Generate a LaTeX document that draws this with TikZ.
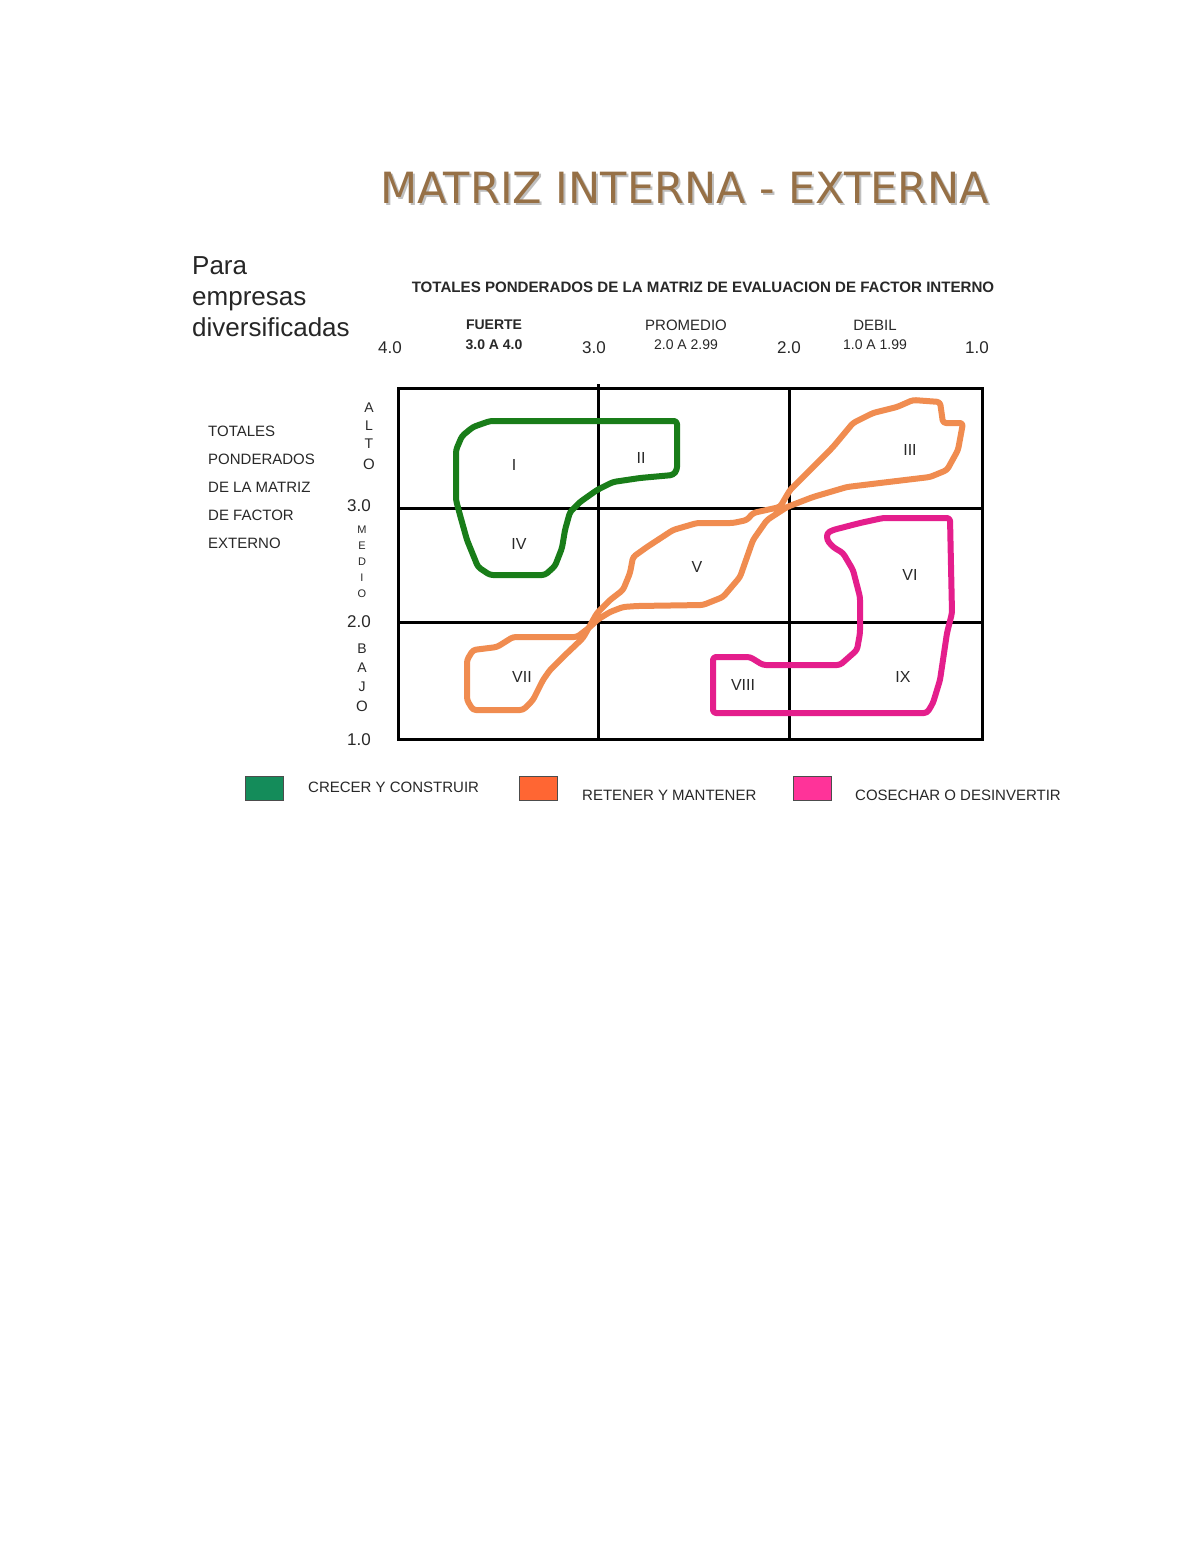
\documentclass[tikz,border=0pt]{standalone}
\usepackage{fontspec}
\setmainfont{Liberation Sans}
\newfontfamily\titlefont{DejaVu Sans}
\definecolor{titlebrown}{RGB}{150,112,70}
\definecolor{gridtext}{RGB}{40,40,40}
\definecolor{growgreen}{RGB}{25,125,25}
\definecolor{keeporange}{RGB}{240,140,80}
\definecolor{harvmag}{RGB}{228,30,140}
\definecolor{leggreen}{RGB}{20,140,90}
\definecolor{legorange}{RGB}{255,102,51}
\definecolor{legmag}{RGB}{255,51,153}
\newcommand{\fs}[1]{\fontsize{#1}{#1}\selectfont}
\begin{document}
\begin{tikzpicture}[x=1pt,y=-1pt,
  lbl/.style={text=gridtext,inner sep=0pt},
  roman/.style={lbl,font=\fs{16}},
  gridline/.style={line width=3pt,black},
  zone/.style={line width=6pt,line join=round,line cap=round,rounded corners=3pt},
  legbox/.style={draw=black!70,line width=1pt,minimum width=38pt,minimum height=24pt,inner sep=0pt},
  legtext/.style={lbl,anchor=west,font=\fs{15}}]
\useasboundingbox[fill=white] (0,0) rectangle (1200,1553);
% title
\node[lbl,text=black!25,font=\titlefont\fs{43}] (titleshadow) at (687,190) {MATRIZ INTERNA - EXTERNA};
\node[lbl,text=titlebrown,font=\titlefont\fs{43}] (title) at (685,188) {MATRIZ INTERNA - EXTERNA};
% left caption
\node[lbl,anchor=base west,text=black!85,font=\fs{26}] (para1) at (192,274) {Para};
\node[lbl,anchor=base west,text=black!85,font=\fs{26}] (para2) at (192,305) {empresas};
\node[lbl,anchor=base west,text=black!85,font=\fs{26}] (para3) at (192,336) {diversificadas};
% top header
\node[lbl,font=\bfseries\fs{15.1}] (toph) at (703,287) {TOTALES PONDERADOS DE LA MATRIZ DE EVALUACION DE FACTOR INTERNO};
\node[lbl,font=\bfseries\fs{14}] (fuerte) at (494,325) {FUERTE};
\node[lbl,font=\bfseries\fs{14}] (fuerter) at (494,345) {3.0 A 4.0};
\node[lbl,font=\fs{15}] (prom) at (686,325) {PROMEDIO};
\node[lbl,font=\fs{14}] (promr) at (686,345) {2.0 A 2.99};
\node[lbl,font=\fs{15}] (debil) at (875,325) {DEBIL};
\node[lbl,font=\fs{14}] (debilr) at (875,345) {1.0 A 1.99};
\node[lbl,font=\fs{17}] (x40) at (390,348) {4.0};
\node[lbl,font=\fs{17}] (x30) at (594,348) {3.0};
\node[lbl,font=\fs{17}] (x20) at (789,348) {2.0};
\node[lbl,font=\fs{17}] (x10) at (977,348) {1.0};
% left side labels
\node[lbl,anchor=west,font=\fs{15}] (ext1) at (208,431) {TOTALES};
\node[lbl,anchor=west,font=\fs{15}] (ext2) at (208,459) {PONDERADOS};
\node[lbl,anchor=west,font=\fs{15}] (ext3) at (208,487) {DE LA MATRIZ};
\node[lbl,anchor=west,font=\fs{15}] (ext4) at (208,515) {DE FACTOR};
\node[lbl,anchor=west,font=\fs{15}] (ext5) at (208,543) {EXTERNO};
% vertical words
\node[lbl,font=\fs{14}] (va1) at (369,408) {A};
\node[lbl,font=\fs{14}] (va2) at (369,426) {L};
\node[lbl,font=\fs{14}] (va3) at (369,444) {T};
\node[lbl,font=\fs{15}] (va4) at (369,464) {O};
\node[lbl,font=\fs{11}] (vm1) at (362,530) {M};
\node[lbl,font=\fs{11}] (vm2) at (362,546) {E};
\node[lbl,font=\fs{11}] (vm3) at (362,562) {D};
\node[lbl,font=\fs{11}] (vm4) at (362,578) {I};
\node[lbl,font=\fs{11}] (vm5) at (362,594) {O};
\node[lbl,font=\fs{14}] (vb1) at (362,649) {B};
\node[lbl,font=\fs{14}] (vb2) at (362,668) {A};
\node[lbl,font=\fs{14}] (vb3) at (362,687) {J};
\node[lbl,font=\fs{15}] (vb4) at (362,706) {O};
\node[lbl,font=\fs{17}] (y30) at (359,506) {3.0};
\node[lbl,font=\fs{17}] (y20) at (359,622) {2.0};
\node[lbl,font=\fs{17}] (y10) at (359,740) {1.0};
% grid
\draw[gridline] (398,388) rectangle (982,739);
\draw[gridline] (598,384) -- (598,739);
\draw[gridline] (789,388) -- (789,739);
\draw[gridline] (398,508) -- (982,508);
\draw[gridline] (398,622) -- (982,622);
% zones
\draw[zone,growgreen] (490,421) -- (677,421) -- (677,470) -- (673,475) -- (640,478) -- (613,482) -- (597,490) -- (580,502) -- (570,512) -- (565,530) -- (562,548) -- (555,566) -- (545,575) -- (490,575) -- (478,567) -- (467,540) -- (460,515) -- (456,500) -- (456,450) -- (462,436) -- (473,427) -- cycle;
\draw[zone,keeporange] (577,637) -- (590,627) -- (597,620) -- (610,612) -- (623,607) -- (637,606) -- (703,605) -- (723,597) -- (740,577) -- (753,540) -- (767,520) -- (787,507) -- (813,497) -- (847,487) -- (880,483) -- (930,477) -- (947,470) -- (958,450) -- (963,423) -- (943,423) -- (940,402) -- (913,400) -- (897,407) -- (873,413) -- (853,423) -- (833,447) -- (813,467) -- (790,490) -- (780,507) -- (753,513) -- (747,520) -- (733,523) -- (697,523) -- (673,530) -- (647,547) -- (633,557) -- (630,573) -- (623,590) -- (610,600) -- (597,613) -- (583,638) -- (563,657) -- (550,670) -- (543,680) -- (533,700) -- (523,710) -- (473,710) -- (467,700) -- (467,660) -- (473,650) -- (497,647) -- (513,637) -- cycle;
\draw[zone,harvmag] (827,540) -- (827,533) -- (833,530) -- (860,523) -- (883,518) -- (950,518) -- (952,613) -- (947,633) -- (940,680) -- (933,703) -- (927,713) -- (713,713) -- (713,657) -- (750,657) -- (763,665) -- (840,665) -- (857,650) -- (860,633) -- (860,597) -- (853,570) -- (843,553) -- (833,547) -- cycle;
% roman numerals
\node[roman] (r1) at (514,465) {I};
\node[roman] (r2) at (641,458) {II};
\node[roman] (r3) at (910,450) {III};
\node[roman] (r4) at (519,544) {IV};
\node[roman] (r5) at (697,567) {V};
\node[roman] (r6) at (910,575) {VI};
\node[roman] (r7) at (522,677) {VII};
\node[roman] (r8) at (743,685) {VIII};
\node[roman] (r9) at (903,677) {IX};
% legend
\node[legbox,fill=leggreen] (lg1) at (264,788) {};
\node[legtext] (lt1) at (308,787) {CRECER Y CONSTRUIR};
\node[legbox,fill=legorange] (lg2) at (538,788) {};
\node[legtext] (lt2) at (582,795) {RETENER Y MANTENER};
\node[legbox,fill=legmag] (lg3) at (812,788) {};
\node[legtext] (lt3) at (855,795) {COSECHAR O DESINVERTIR};
\end{tikzpicture}
\end{document}
